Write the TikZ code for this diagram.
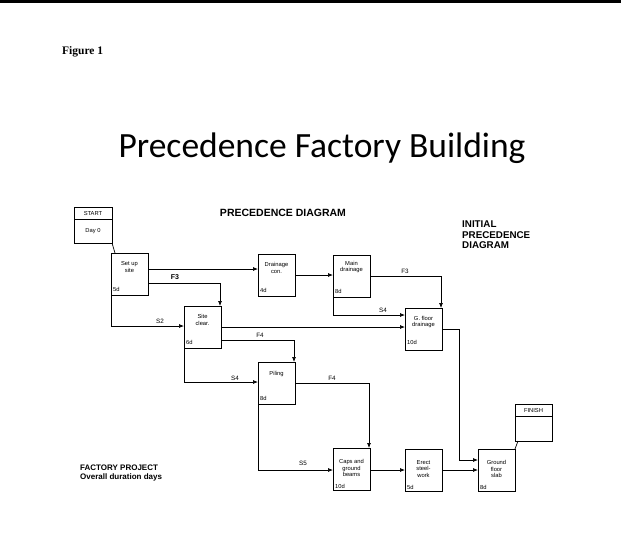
\documentclass[tikz,border=0pt]{standalone}
\usepackage{fontspec}
\setmainfont{Liberation Sans}
\newfontfamily\titlefont{Carlito}
\newfontfamily\seriffont{Liberation Serif}
\usetikzlibrary{calc,arrows.meta}
\begin{document}
\begin{tikzpicture}[x=1pt,y=-1pt,
  box/.style={draw,line width=0.8pt,anchor=north west,minimum width=37pt,minimum height=42pt,inner sep=0pt,outer sep=0pt},
  txt/.style={font=\fontsize{5.8}{6.8}\selectfont,align=center,inner sep=0pt},
  dur/.style={font=\fontsize{5.8}{6}\selectfont,inner sep=0pt,anchor=south west},
  lab/.style={font=\fontsize{6.3}{7}\selectfont,inner sep=0pt},
  con/.style={line width=0.7pt},
  arr/.style={con,-{Latex[length=5pt,width=4pt]}}]
\useasboundingbox (0,0) rectangle (621,558);
\fill[black] (0,0) rectangle (621,3);
\node[font=\seriffont\bfseries\fontsize{11.5}{12}\selectfont,anchor=west,inner sep=0pt] (fig) at (62,52) {Figure 1};
\node[font=\titlefont\fontsize{35.5}{38}\selectfont] (title) at (322,148) {Precedence Factory Building};
\node[font=\bfseries\fontsize{10.5}{11}\selectfont] (pd) at (283,213) {PRECEDENCE DIAGRAM};
\node[font=\bfseries\fontsize{9.8}{10.5}\selectfont,align=left,anchor=north west,inner sep=0pt] (ipd) at (462,221) {INITIAL\\PRECEDENCE\\DIAGRAM};
\node[font=\bfseries\fontsize{8}{8.5}\selectfont,align=left,anchor=north west,inner sep=0pt] (fp) at (80,465) {FACTORY PROJECT\\Overall duration days};

% START / FINISH
\node[box,minimum height=36pt,minimum width=38pt] (st) at (74,207) {};
\draw[line width=0.8pt] (74,219) -- (112,219);
\node[txt] (stt) at (93,213) {START};
\node[txt] (std) at (93,231) {Day 0};
\node[box,minimum height=37pt] (fi) at (515,404) {};
\draw[line width=0.8pt] (515,416) -- (552,416);
\node[txt] (fit) at (533.5,410) {FINISH};

% activity boxes
\node[box] (su) at (111,253) {};
\node[txt] at ($(su.north)+(0,14)$) {Set up\\site};
\node[dur] at ($(su.south west)+(2,-3)$) {5d};
\node[box] (dc) at (258,254) {};
\node[txt] at ($(dc.north)+(0,14)$) {Drainage\\con.};
\node[dur] at ($(dc.south west)+(2,-3)$) {4d};
\node[box] (md) at (333,255) {};
\node[txt] at ($(md.north)+(0,12)$) {Main\\drainage};
\node[dur] at ($(md.south west)+(2,-3)$) {8d};
\node[box] (sc) at (184,306) {};
\node[txt] at ($(sc.north)+(0,14)$) {Site\\clear.};
\node[dur] at ($(sc.south west)+(2,-3)$) {6d};
\node[box] (gf) at (405,308) {};
\node[txt] at ($(gf.north)+(0,14)$) {G. floor\\drainage};
\node[dur] at ($(gf.south west)+(2,-5)$) {10d};
\node[box] (pi) at (258,362) {};
\node[txt] at ($(pi.north)+(0,12)$) {Piling};
\node[dur] at ($(pi.south west)+(2,-3)$) {8d};
\node[box] (ca) at (333,448) {};
\node[txt] at ($(ca.north)+(0,20)$) {Caps and\\ground\\beams};
\node[dur] at ($(ca.south west)+(2,-1)$) {10d};
\node[box] (er) at (405,449) {};
\node[txt] at ($(er.north)+(0,20)$) {Erect\\steel-\\work};
\node[dur] at ($(er.south west)+(2,-1)$) {5d};
\node[box] (sl) at (478,449) {};
\node[txt] at ($(sl.north)+(0,20)$) {Ground\\floor\\slab};
\node[dur] at ($(sl.south west)+(2,-1)$) {8d};

% connectors
\draw[con] (st.south east) -- ($(su.north west)+(4,0)$);
\draw[con] ($(fi.south west)+(3,0)$) -- (sl.north east);
\draw[arr] ($(su.north east)+(0,16)$) coordinate (a1) -- (a1 -| dc.west);
\draw[arr] ($(su.north east)+(0,30)$) -| ($(sc.north east)+(-1,0)$);
\node[lab,font=\bfseries\fontsize{7}{8}\selectfont] at (175,277) {F3};
\draw[arr] (su.south west) |- ($(sc.north west)+(0,20)$);
\node[lab] at (160,321) {S2};
\draw[arr] (dc.east) -- (dc.east -| md.west);
\draw[arr] (md.east) -| ($(gf.north east)+(-1,0)$);
\node[lab] at (405,271) {F3};
\draw[arr] (md.south west) |- ($(gf.north west)+(0,7)$);
\node[lab] at (383,310) {S4};
\draw[arr] ($(sc.north east)+(0,21)$) coordinate (a2) -- (a2 -| gf.west);
\draw[arr] ($(sc.north east)+(0,34)$) -| ($(pi.north east)+(-1,0)$);
\node[lab] at (260,335) {F4};
\draw[arr] (sc.south west) |- ($(pi.north west)+(0,20)$);
\node[lab] at (235,378) {S4};
\draw[arr] ($(pi.north east)+(0,21)$) -| ($(ca.north east)+(-1,0)$);
\node[lab] at (332,378) {F4};
\draw[arr] (pi.south west) |- ($(ca.north west)+(0,22)$);
\node[lab] at (303,463) {S5};
\draw[arr] ($(ca.north east)+(0,22)$) coordinate (a3) -- (a3 -| er.west);
\draw[arr] ($(er.north east)+(0,21)$) coordinate (a4) -- (a4 -| sl.west);
\draw[arr] ($(gf.north east)+(0,21)$) -- ++(17,0) |- ($(sl.north west)+(0,11)$);
\end{tikzpicture}
\end{document}
